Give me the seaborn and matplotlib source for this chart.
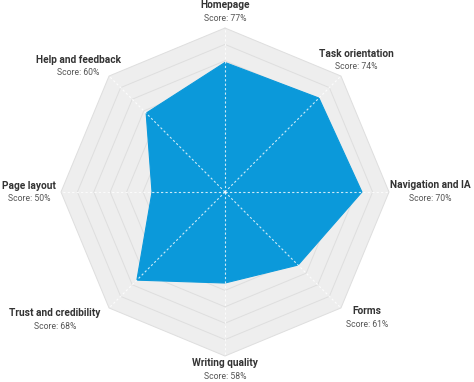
import numpy as np
import pandas as pd
import matplotlib
matplotlib.use("Agg")
import matplotlib.pyplot as plt
import seaborn as sns

# ---- data ----
categories = ["Homepage", "Task orientation", "Navigation and IA", "Forms",
              "Writing quality", "Trust and credibility", "Page layout", "Help and feedback"]
scores = [77, 74, 70, 61, 58, 68, 50, 60]          # printed scores
plotted = [79, 81, 83.5, 63, 55.5, 76, 44.5, 68]    # polygon radius as drawn

sns.set_theme(style="white")
plt.rcParams["font.family"] = ["Roboto", "DejaVu Sans"]

W, H, DPI = 474, 382, 100
fig = plt.figure(figsize=(W / DPI, H / DPI), dpi=DPI)
ax = fig.add_axes([0, 0, 1, 1])
cx, cy, R = 225, 192, 164  # pixel center and radius
s = R / 100.0
ax.set_xlim(-cx / s, (W - cx) / s)
ax.set_ylim(-(H - cy) / s, cy / s)
ax.set_axis_off()

n = len(categories)
theta = np.arange(n) * 2 * np.pi / n

def xy(r, th):
    return r * np.sin(th), r * np.cos(th)

# background octagon + rings
ox, oy = xy(100, np.append(theta, theta[0]))
ax.fill(ox, oy, color="#eeeeee", zorder=1, lw=0)
for lvl in range(10, 101, 10):
    gx, gy = xy(lvl, np.append(theta, theta[0]))
    ax.plot(gx, gy, color="#dedede", lw=0.7, zorder=2)

# data polygon
df = pd.DataFrame({"category": categories, "score": scores, "r": plotted, "theta": theta})
px, py = xy(df["r"].values, df["theta"].values)
ax.fill(px, py, color="#0b99da", zorder=3, lw=0)
closed = pd.DataFrame({"x": np.append(px, px[0]), "y": np.append(py, py[0]),
                       "o": np.arange(n + 1)})
sns.lineplot(data=closed, x="x", y="y", sort=False, color="#0b99da", lw=0.8, ax=ax,
             zorder=3, estimator=None)

# spokes
for th in theta:
    sx, sy = xy(np.array([0, 100]), th)
    ax.plot(sx, sy, color="white", lw=0.8, ls=(0, (2, 2)), alpha=0.8, zorder=4)

# labels (block-center offsets in pixels from each outer vertex)
offsets = [(0, 16), (15, 16), (41, 0), (26, -10), (0, -14), (-54, -12), (-32, 0), (-31, 10)]
for cat, sc, th, (dx, dy) in zip(categories, scores, theta, offsets):
    vx, vy = xy(100, th)
    ax.annotate(cat, xy=(vx, vy), xytext=(dx, dy + 6.5), textcoords="offset pixels",
                ha="center", va="center", fontsize=7.3, fontweight="bold", color="#333333",
                annotation_clip=False)
    ax.annotate(f"Score: {sc}%", xy=(vx, vy), xytext=(dx, dy - 6.5), textcoords="offset pixels",
                ha="center", va="center", fontsize=6.2, color="#555555",
                annotation_clip=False)

fig.savefig("out.png", dpi=DPI)
